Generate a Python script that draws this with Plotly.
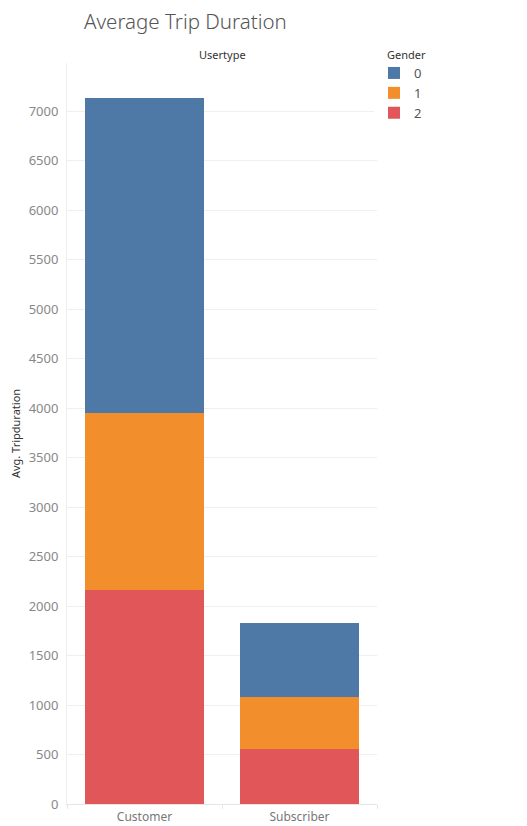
import plotly.graph_objects as go

usertypes = ['Customer', 'Subscriber']
genders = ['2', '1', '0']
gender_0 = [3182, 747]
gender_1 = [1787, 525]
gender_2 = [2162, 556]
y_ticks = [0, 500, 1000, 1500, 2000, 2500, 3000, 3500, 4000, 4500, 5000, 5500, 6000, 6500, 7000]

colors = {'0': '#4e79a7', '1': '#f28e2b', '2': '#e15759'}
series = {'0': gender_0, '1': gender_1, '2': gender_2}

# page body has an 8px margin, so the figure is 8px smaller than the window
W, H = 519, 818

fig = go.Figure()
# first trace sits at the bottom of the stack
for g in genders:
    fig.add_trace(go.Bar(
        x=usertypes,
        y=series[g],
        name=g,
        marker=dict(color=colors[g], line=dict(width=0)),
    ))

fig.update_layout(
    width=W,
    height=H,
    barmode='stack',
    bargap=0.226,
    plot_bgcolor='white',
    paper_bgcolor='white',
    font=dict(family='Noto Sans', color='#555'),
    margin=dict(l=59, r=150, t=55, b=22, autoexpand=False),
    title=dict(
        text='Average Trip Duration',
        x=76 / W, xanchor='left',
        y=1 - 14 / H, yanchor='middle',
        automargin=False,
        font=dict(family='Noto Sans', size=20.5, color='#555', weight=300),
    ),
    legend=dict(
        traceorder='reversed',
        x=366 / W, xanchor='left',
        y=1 - 50 / H, yanchor='top',
        xref='container', yref='container',
        font=dict(size=13, color='#555'),
        tracegroupgap=0,
        itemclick=False,
    ),
    xaxis=dict(
        automargin=False,
        showgrid=False,
        showline=True,
        linecolor='#e6e6e6',
        tickson='boundaries',
        ticks='outside',
        ticklen=4,
        tickcolor='#e6e6e6',
        ticklabelstandoff=2,
        tickfont=dict(size=12, color='#777'),
    ),
    yaxis=dict(
        automargin=False,
        range=[0, 7485],
        tickvals=y_ticks,
        showgrid=True,
        gridcolor='#efefef',
        zeroline=False,
        showline=True,
        linecolor='#efefef',
        tickfont=dict(size=13, color='#888'),
        ticklabelstandoff=5,
        title=dict(text='Avg. Tripduration', font=dict(size=11, color='#333'), standoff=20),
    ),
    annotations=[
        dict(
            text='Usertype',
            xref='paper', yref='paper',
            x=0.5, y=1, yanchor='bottom', yshift=-1,
            showarrow=False,
            font=dict(size=11, color='#333'),
        ),
        dict(
            text='Gender',
            xref='paper', yref='paper',
            x=(377 - 59) / (W - 59 - 150), xanchor='left',
            y=1, yanchor='bottom', yshift=-1,
            showarrow=False,
            font=dict(size=11, color='#333'),
        ),
    ],
)

fig.write_html("out.html")
